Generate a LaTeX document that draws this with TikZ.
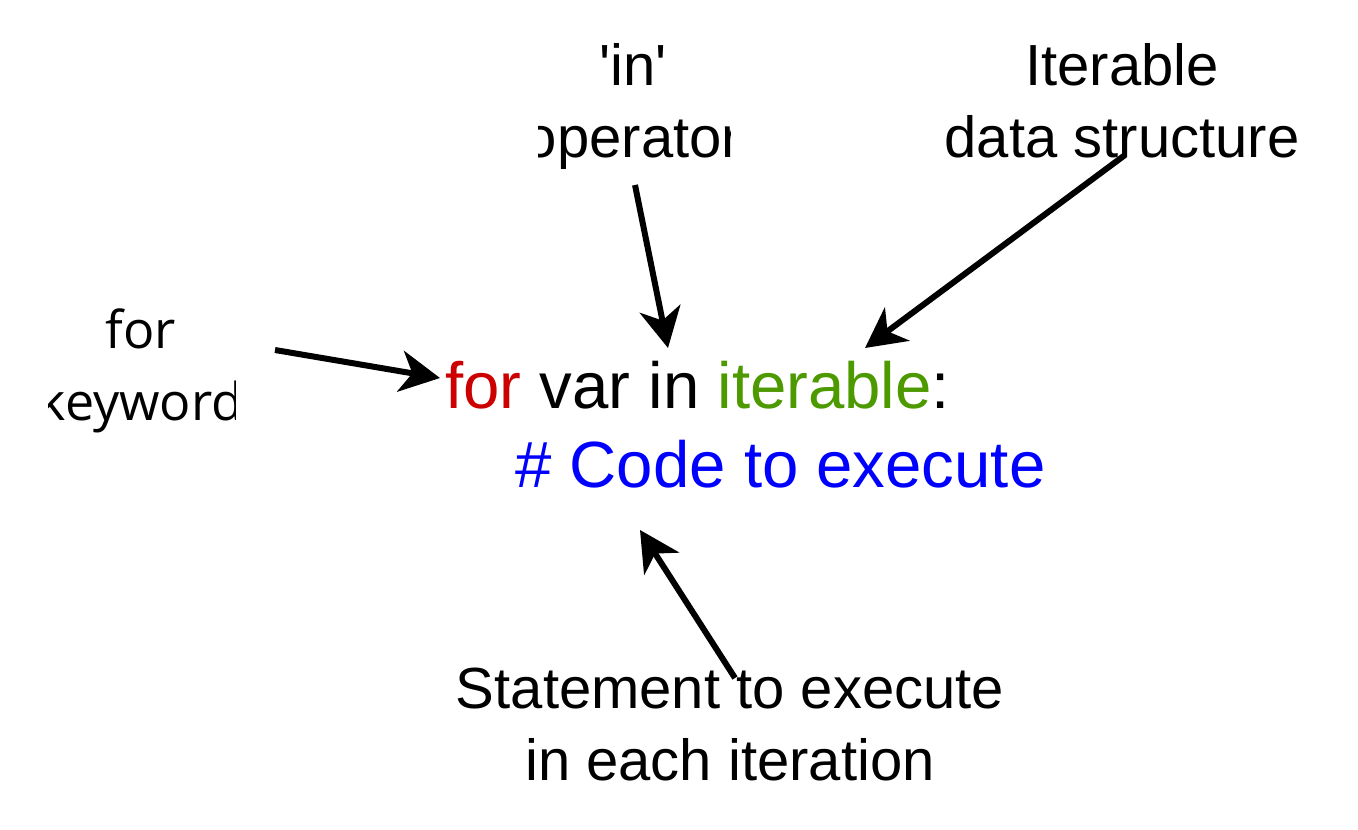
\documentclass[tikz,border=0pt]{standalone}
\usepackage{fontspec}
\setmainfont{Liberation Sans}
\newfontfamily\kwfont{Open Sans}
\usetikzlibrary{arrows.meta}
\definecolor{forred}{HTML}{CC0000}
\definecolor{itergreen}{HTML}{4D9900}
\definecolor{codeblue}{HTML}{0000FF}
\begin{document}
\begin{tikzpicture}[x=0.75pt,y=-0.75pt,
		lbl/.style={inner sep=0pt, align=center, anchor=base, font=\fontsize{43.5}{54}\selectfont},
		code/.style={inner sep=0pt, anchor=base west, font=\fontsize{49}{59}\selectfont},
		arr/.style={-{Stealth[length=30pt,width=31pt,inset=9pt]}, line width=4.5pt, black}]
			\useasboundingbox (0,0) rectangle (1358,830);
			% code lines
			\node[code] (loop) at (445,408) {\textcolor{forred}{for} var in \textcolor{itergreen}{iterable}:};
			\node[code, codeblue] (body) at (515,487) {\# Code to execute};
			% labels (base = last line)
			\begin{scope}
				\clip (48,250) rectangle (235,450);
				\node[lbl, font=\kwfont\fontsize{39}{54}\selectfont] (forlbl) at (141,420) {for\\keyword};
			\end{scope}
			\begin{scope}
				\clip (538,0) rectangle (730,200);
				\node[lbl] (inlbl) at (633,158) {\textquotesingle in\textquotesingle\\operator};
			\end{scope}
			\node[lbl] (iterlbl) at (1122,158) {Iterable\\data structure};
			\node[lbl] (stmtlbl) at (730,780) {Statement to execute\\in each iteration};
			% arrows
			\coordinate (a) at (275,350);
			\coordinate (b) at (440,378);
			\coordinate (c) at (635,185);
			\coordinate (d) at (668,348);
			\coordinate (e) at (1125,155);
			\coordinate (f) at (865,348);
			\coordinate (g) at (735,678);
			\coordinate (h) at (640,530);
			\draw[arr] (a) -- (b);
			\draw[arr] (c) -- (d);
			\draw[arr] (e) -- (f);
			\draw[arr] (g) -- (h);
		\end{tikzpicture}
\end{document}
